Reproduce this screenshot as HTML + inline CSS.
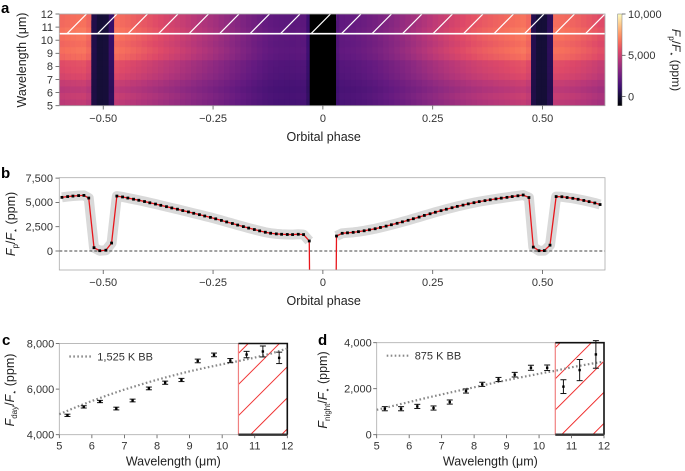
<!DOCTYPE html>
<html><head><meta charset="utf-8"><style>
html,body{margin:0;padding:0;background:#fff}
svg{display:block;font-family:"Liberation Sans",sans-serif}
</style></head><body>
<svg id="fig" width="685" height="471" viewBox="0 0 685 471" xmlns="http://www.w3.org/2000/svg">
<defs>
<linearGradient id="cbgrad" x1="0" y1="1" x2="0" y2="0">
<stop offset="0" stop-color="#000004"/><stop offset="0.1" stop-color="#140e36"/><stop offset="0.2" stop-color="#3b0f70"/><stop offset="0.3" stop-color="#641a80"/><stop offset="0.4" stop-color="#8c2981"/><stop offset="0.5" stop-color="#b73779"/><stop offset="0.6" stop-color="#de4968"/><stop offset="0.7" stop-color="#f7705c"/><stop offset="0.8" stop-color="#fe9f6d"/><stop offset="0.9" stop-color="#fecf92"/><stop offset="1" stop-color="#fcfdbf"/>
</linearGradient>
<pattern id="redhatch" width="22" height="22" patternUnits="userSpaceOnUse" patternTransform="rotate(45)">
<line x1="0" y1="0" x2="0" y2="22" stroke="#ee1c1c" stroke-width="1.8"/>
</pattern>
<clipPath id="clipA"><rect x="59.3" y="14" width="545.7" height="91.7"/></clipPath>
<clipPath id="clipB"><rect x="59.3" y="177.7" width="545.7" height="92.3"/></clipPath>
</defs>
<g id="pa"></g>
<g id="pb"></g>
<g id="pc"></g>
<g id="pd"></g>
</svg>
<script>
// ---- data ----
const phases = [-0.594,-0.581,-0.569,-0.556,-0.544,-0.533,-0.521,-0.508,-0.494,-0.481,
-0.469,-0.456,-0.444,-0.431,-0.419,-0.406,-0.394,-0.381,-0.369,-0.356,-0.344,-0.331,-0.319,-0.306,-0.294,-0.281,-0.269,-0.256,-0.244,-0.231,-0.219,-0.206,-0.194,-0.181,-0.169,-0.156,-0.144,-0.131,-0.119,-0.106,-0.094,-0.081,-0.069,-0.056,-0.044,-0.031,
0.031,0.044,0.056,0.069,0.081,0.094,0.106,0.119,0.131,0.144,0.156,0.169,0.181,0.194,0.206,0.219,0.231,0.244,0.256,0.269,0.281,0.294,0.306,0.319,0.331,0.344,0.356,0.369,0.381,0.394,0.406,0.419,0.431,0.444,0.456,0.469,
0.479,0.492,0.504,0.517,0.531,0.544,0.556,0.569,0.581,0.594,0.606,0.619,0.631];
const fluxes = [5520,5600,5650,5700,5720,5450,340,30,80,820,
5650,5560,5450,5330,5220,5090,4960,4830,4700,4560,4430,4300,4160,4020,3880,3740,3600,3460,3310,3150,2990,2830,2670,2510,2360,2210,2070,1930,1830,1760,1720,1700,1690,1720,1690,1030,
1540,1820,1870,1920,1990,2080,2180,2290,2420,2560,2700,2850,3000,3160,3320,3490,3660,3830,3990,4150,4300,4450,4590,4720,4850,4970,5080,5180,5270,5360,5440,5520,5600,5680,5760,5500,
400,30,40,600,5600,5580,5500,5420,5320,5200,5080,4940,4780];
const transitPhases = [-0.03, 0.03];
const waves = [5.25,5.75,6.25,6.75,7.25,7.75,8.25,8.75,9.25,9.75,10.25,10.75,11.25,11.75];
const dayVals = [4850,5220,5456,5147,5500,6030,6280,6400,7235,7500,7250,7515,7650,7370];
const dayErrs = [50,50,50,60,60,60,70,70,80,80,90,140,240,250];
const nightVals = [1130,1130,1230,1160,1420,1900,2190,2400,2610,2910,2910,2090,2810,3490];
const nightErrs = [90,90,90,90,90,90,90,90,100,110,120,300,460,600];
const bbWaves = [5,5.5,6,6.5,7,7.5,8,8.5,9,9.5,10,10.5,11,11.5,12];
const dayBB = [4900,5200,5480,5740,5980,6200,6410,6600,6780,6940,7090,7230,7380,7560,7780];
const nightBB = [1080,1250,1420,1590,1750,1910,2060,2220,2370,2510,2650,2780,2930,3060,3180];
const phaseTicks = [-0.5,-0.25,0,0.25,0.5];
const phaseTickLabels = ["\u22120.50","\u22120.25","0","0.25","0.50"];
const waveTicksA = [5,6,7,8,9,10,11,12];
const cbTicks = [0,5000,10000];
const cbTickLabels = ["0","5,000","10,000"];
const bTicks = [0,2500,5000,7500];
const bTickLabels = ["0","2,500","5,000","7,500"];
const cTicks = [4000,6000,8000];
const cTickLabels = ["4,000","6,000","8,000"];
const dTicks = [0,2000,4000];
const dTickLabels = ["0","2,000","4,000"];
const specXTicks = [5,6,7,8,9,10,11,12];

const NS="http://www.w3.org/2000/svg";
function mk(parent,tag,attrs,text){const e=document.createElementNS(NS,tag);for(const k in attrs)e.setAttribute(k,attrs[k]);if(text!==undefined)e.textContent=text;parent.appendChild(e);return e;}
const stops=[[0,[0,0,4]],[0.1,[20,14,54]],[0.2,[59,15,112]],[0.3,[100,26,128]],[0.4,[140,41,129]],[0.5,[183,55,121]],[0.6,[222,73,104]],[0.7,[247,112,92]],[0.8,[254,159,109]],[0.9,[254,207,146]],[1,[252,253,191]]];
function magma(t){t=Math.max(0,Math.min(1,t));for(let i=1;i<stops.length;i++){if(t<=stops[i][0]){const a=stops[i-1],b=stops[i];const f=(t-a[0])/(b[0]-a[0]);const c=a[1].map((v,j)=>Math.round(v+(b[1][j]-v)*f));return `rgb(${c[0]},${c[1]},${c[2]})`;}}return "rgb(252,253,191)";}

// ---- panel a ----
const pa=document.getElementById('pa');
const xA=p=>59.3+(p+0.6)*439.3;
const yA=w=>105.7-(w-5)*13.1;
const cbMin=-1100,cbMax=10000;
const meanDay=6300;
const gA=mk(pa,'g',{'clip-path':'url(#clipA)'});
for(let i=0;i<phases.length;i++){
  const lo=i===0?-0.6:(phases[i]+phases[i-1])/2;
  const hi=i===phases.length-1?0.65:(phases[i]+phases[i+1])/2;
  let l=lo,h=hi;
  if(phases[i]<0&&phases[i+1]>0)h=transitPhases[0];
  if(phases[i]>0&&phases[i-1]<0)l=transitPhases[1];
  for(let r=0;r<waves.length;r++){
    const v=fluxes[i]*dayVals[r]/meanDay;
    const c=mk(gA,'rect',{x:xA(l).toFixed(2),y:yA(waves[r]+0.25).toFixed(2),width:(xA(h)-xA(l)+0.4).toFixed(2),height:13.5,fill:magma((v-cbMin)/(cbMax-cbMin))});
    
    
  }
}
const tr=mk(gA,'rect',{x:xA(transitPhases[0]),y:14,width:xA(transitPhases[1])-xA(transitPhases[0]),height:92,fill:'#000'});


const hatchA=mk(gA,'g',{stroke:'#fff','stroke-width':1.2});


for(let x=67;x<620;x+=30.5){mk(hatchA,'line',{x1:x,y1:yA(10.5),x2:x+19.5,y2:yA(12)});}
mk(pa,'line',{x1:59.3,x2:605,y1:yA(10.5),y2:yA(10.5),stroke:'#fff','stroke-width':1.6,});
mk(pa,'rect',{x:59.3,y:14,width:545.7,height:91.7,fill:'none',stroke:'#aaa','stroke-width':0.8,});
waveTicksA.forEach(w=>{mk(pa,'line',{x1:55.5,x2:59.3,y1:yA(w),y2:yA(w),stroke:'#555','stroke-width':0.8});
  mk(pa,'text',{x:53,y:yA(w)+3.8,'text-anchor':'end','font-size':11,fill:'#333',},String(w));});
phaseTicks.forEach((p,i)=>{mk(pa,'line',{x1:xA(p),x2:xA(p),y1:105.7,y2:109.5,stroke:'#555','stroke-width':0.8});
  mk(pa,'text',{x:xA(p),y:122,'text-anchor':'middle','font-size':11,fill:'#333',},phaseTickLabels[i]);});
mk(pa,'text',{x:323.7,y:141,'text-anchor':'middle','font-size':12.5,fill:'#222',},'Orbital phase');
mk(pa,'text',{x:0,y:0,transform:'translate(26,60) rotate(-90)','text-anchor':'middle','font-size':12.5,fill:'#222',},'Wavelength (\u03bcm)');
mk(pa,'text',{x:1,y:13,'font-size':15,'font-weight':'bold',fill:'#000',},'a');
const yCB=v=>105.7-(v-cbMin)/(cbMax-cbMin)*91.7;
mk(pa,'rect',{x:617.7,y:14,width:4.3,height:91.7,fill:'url(#cbgrad)',stroke:'#777','stroke-width':0.5,});
cbTicks.forEach((v,i)=>{mk(pa,'line',{x1:622,x2:625.5,y1:yCB(v),y2:yCB(v),stroke:'#555','stroke-width':0.8});
  mk(pa,'text',{x:628,y:yCB(v)+3.8,'font-size':11,fill:'#333',},cbTickLabels[i]);});
const cbt=mk(pa,'text',{x:0,y:0,transform:'translate(672,60) rotate(90)','text-anchor':'middle','font-size':12,fill:'#222',});
cbt.innerHTML='<tspan font-style="italic">F</tspan><tspan font-size="8" dy="3">p</tspan><tspan dy="-3">/</tspan><tspan font-style="italic">F</tspan><tspan font-size="8" dy="3">\u22c6</tspan><tspan dy="-3"> (ppm)</tspan>';

// ---- panel b ----
const pb=document.getElementById('pb');
const xB=xA;
const yB=v=>251-v/2500*24.3;
const gB=mk(pb,'g',{'clip-path':'url(#clipB)'});
function segPath(xs,ys){let d='';let prev=null;for(let i=0;i<xs.length;i++){const isNeg=xs[i]>0&&prev!==null&&prev<0;d+=(i===0||isNeg?'M':'L')+xB(xs[i]).toFixed(2)+','+yB(ys[i]).toFixed(2)+' ';prev=xs[i];}return d;}
const cloud=mk(gB,'path',{d:segPath(phases,fluxes),fill:'none',stroke:'#cfcfcf','stroke-width':10,'stroke-opacity':0.8,'stroke-linejoin':'round','stroke-linecap':'butt'});


mk(gB,'line',{x1:59.3,x2:605,y1:yB(0),y2:yB(0),stroke:'#444','stroke-width':1.1,'stroke-dasharray':'3,2',});
const mx=[],my=[];
for(let i=0;i<phases.length;i++){mx.push(phases[i]);my.push(fluxes[i]);
  if(phases[i]<0&&phases[i+1]>0){mx.push(transitPhases[0]);my.push(-4000);mx.push(transitPhases[1]);my.push(-4000);}}
let md='';for(let i=0;i<mx.length;i++){const brk=i>0&&mx[i-1]<0&&mx[i]>0;md+=(i===0||brk?'M':'L')+xB(mx[i]).toFixed(2)+','+yB(my[i]).toFixed(2)+' ';}
const model=mk(gB,'path',{d:md,fill:'none',stroke:'#e8161c','stroke-width':1.3});


phases.forEach((p,i)=>{const s=mk(gB,'rect',{x:xB(p)-1.4,y:yB(fluxes[i])-1.4,width:2.8,height:2.8,fill:'#000'});
  
  });
mk(pb,'rect',{x:59.3,y:177.7,width:545.7,height:92.3,fill:'none',stroke:'#aaa','stroke-width':0.8,});
bTicks.forEach((v,i)=>{mk(pb,'line',{x1:55.5,x2:59.3,y1:yB(v),y2:yB(v),stroke:'#555','stroke-width':0.8});
  mk(pb,'text',{x:53,y:yB(v)+3.8,'text-anchor':'end','font-size':11,fill:'#333',},bTickLabels[i]);});
phaseTicks.forEach((p,i)=>{mk(pb,'line',{x1:xB(p),x2:xB(p),y1:270,y2:274,stroke:'#555','stroke-width':0.8});
  mk(pb,'text',{x:xB(p),y:286,'text-anchor':'middle','font-size':11,fill:'#333',},phaseTickLabels[i]);});
mk(pb,'text',{x:323.7,y:305,'text-anchor':'middle','font-size':12.5,fill:'#222',},'Orbital phase');
const ybt=mk(pb,'text',{x:0,y:0,transform:'translate(15,224) rotate(-90)','text-anchor':'middle','font-size':12.5,fill:'#222',});
ybt.innerHTML='<tspan font-style="italic">F</tspan><tspan font-size="8" dy="3">p</tspan><tspan dy="-3">/</tspan><tspan font-style="italic">F</tspan><tspan font-size="8" dy="3">\u22c6</tspan><tspan dy="-3"> (ppm)</tspan>';
mk(pb,'text',{x:1,y:178,'font-size':15,'font-weight':'bold',fill:'#000',},'b');

// ---- spectra panels ----
function spectrum(g,x0,x1,yTop,yBot,vMin,vMax,vals,errs,bb,ticks,tickLabels,legend,label,sub,tag){
  const X=w=>x0+(w-5)/7*(x1-x0);
  const Y=v=>yBot-(v-vMin)/(vMax-vMin)*(yBot-yTop);
  const cid='clip'+tag;
  mk(document.querySelector('defs'),'clipPath',{id:cid}).appendChild((()=>{const r=document.createElementNS(NS,'rect');r.setAttribute('x',X(10.5));r.setAttribute('y',yTop);r.setAttribute('width',X(12)-X(10.5));r.setAttribute('height',yBot-yTop);return r;})());
  mk(g,'rect',{x:X(10.5),y:yTop,width:X(12)-X(10.5),height:yBot-yTop,fill:'url(#redhatch)','clip-path':`url(#${cid})`,});
  mk(g,'rect',{x:x0,y:yTop,width:x1-x0,height:yBot-yTop,fill:'none',stroke:'#aaa','stroke-width':0.8,});
  mk(g,'line',{x1:X(10.5),x2:X(10.5),y1:yTop,y2:yBot,stroke:'#f08080','stroke-width':1.2});
  mk(g,'polyline',{points:`${X(10.5)},${yTop} ${x1},${yTop} ${x1},${yBot}`,fill:'none',stroke:'#111','stroke-width':1.6});
  mk(g,'line',{x1:X(10.5),x2:x1,y1:yBot,y2:yBot,stroke:'#333','stroke-width':2.4});
  let d='';bbWaves.forEach((w,i)=>{d+=(i?'L':'M')+X(w).toFixed(2)+','+Y(bb[i]).toFixed(2)+' ';});
  const bl=mk(g,'path',{d:d,fill:'none',stroke:'#888','stroke-width':2.2,'stroke-dasharray':'1.6,2.4'});
  
  
  waves.forEach((w,i)=>{
    const eb=mk(g,'g',{stroke:'#111','stroke-width':1});
    
    
    mk(eb,'line',{x1:X(w),x2:X(w),y1:Y(vals[i]-errs[i]),y2:Y(vals[i]+errs[i])});
    mk(eb,'line',{x1:X(w)-3,x2:X(w)+3,y1:Y(vals[i]-errs[i]),y2:Y(vals[i]-errs[i])});
    mk(eb,'line',{x1:X(w)-3,x2:X(w)+3,y1:Y(vals[i]+errs[i]),y2:Y(vals[i]+errs[i])});
    mk(eb,'rect',{x:X(w)-1.2,y:Y(vals[i])-1.2,width:2.4,height:2.4,fill:'#000',stroke:'none'});
  });
  ticks.forEach((v,i)=>{mk(g,'line',{x1:x0-3.5,x2:x0,y1:Y(v),y2:Y(v),stroke:'#555','stroke-width':0.8});
    mk(g,'text',{x:x0-5,y:Y(v)+3.8,'text-anchor':'end','font-size':11,fill:'#333',},tickLabels[i]);});
  specXTicks.forEach(w=>{mk(g,'line',{x1:X(w),x2:X(w),y1:yBot,y2:yBot+3.5,stroke:'#555','stroke-width':0.8});
    mk(g,'text',{x:X(w),y:yBot+15,'text-anchor':'middle','font-size':11,fill:'#333',},String(w));});
  mk(g,'text',{x:(x0+x1)/2,y:yBot+31,'text-anchor':'middle','font-size':12.5,fill:'#222',},'Wavelength (\u03bcm)');
  mk(g,'line',{x1:x0+10,x2:x0+33,y1:yTop+13,y2:yTop+13,stroke:'#888','stroke-width':2.2,'stroke-dasharray':'1.6,2.4',});
  mk(g,'text',{x:x0+38,y:yTop+17,'font-size':11,fill:'#333',},legend);
  return {X,Y};
}
const pc=document.getElementById('pc');
spectrum(pc,59.3,287.3,343.5,434.7,4000,8000,dayVals,dayErrs,dayBB,cTicks,cTickLabels,'1,525 K BB','c','day','c');
const yct=mk(pc,'text',{x:0,y:0,transform:'translate(14,390) rotate(-90)','text-anchor':'middle','font-size':12.5,fill:'#222',});
yct.innerHTML='<tspan font-style="italic">F</tspan><tspan font-size="8" dy="3">day</tspan><tspan dy="-3">/</tspan><tspan font-style="italic">F</tspan><tspan font-size="8" dy="3">\u22c6</tspan><tspan dy="-3"> (ppm)</tspan>';
mk(pc,'text',{x:2,y:345,'font-size':15,'font-weight':'bold',fill:'#000',},'c');
const pd=document.getElementById('pd');
spectrum(pd,376.7,604,342.7,434.7,0,4000,nightVals,nightErrs,nightBB,dTicks,dTickLabels,'875 K BB','d','night','d');
const ydt=mk(pd,'text',{x:0,y:0,transform:'translate(327,390) rotate(-90)','text-anchor':'middle','font-size':12.5,fill:'#222',});
ydt.innerHTML='<tspan font-style="italic">F</tspan><tspan font-size="8" dy="3">night</tspan><tspan dy="-3">/</tspan><tspan font-style="italic">F</tspan><tspan font-size="8" dy="3">\u22c6</tspan><tspan dy="-3"> (ppm)</tspan>';
mk(pd,'text',{x:318,y:345,'font-size':15,'font-weight':'bold',fill:'#000',},'d');
</script>
</body></html>
